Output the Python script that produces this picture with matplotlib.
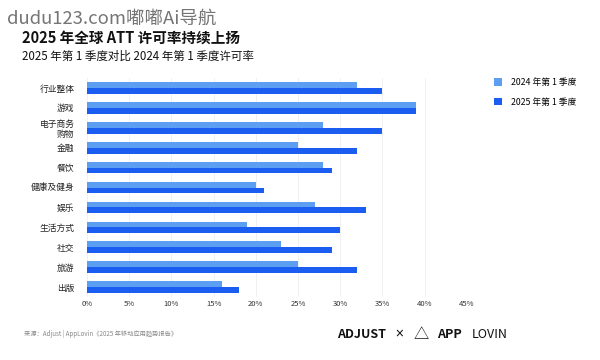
import matplotlib.pyplot as plt
import numpy as np

plt.rcParams['font.family'] = ['Noto Sans CJK SC', 'DejaVu Sans']

# categories top to bottom
categories = ["行业整体", "游戏", "电子商务\n购物", "金融", "餐饮", "健康及健身",
              "娱乐", "生活方式", "社交", "旅游", "出版"]
q1_2024 = [32, 39, 28, 25, 28, 20, 27, 19, 23, 25, 16]
q1_2025 = [35, 39, 35, 32, 29, 21, 33, 30, 29, 32, 18]
xticks = [0, 5, 10, 15, 20, 25, 30, 35, 40, 45]

c_light = "#5b9ef2"
c_dark = "#1a5df0"

fig = plt.figure(figsize=(6, 3.6), dpi=100)
ax = fig.add_axes([0.145, 0.175, 0.633, 0.608])

y = np.arange(len(categories))
h = 0.29
ax.barh(y - h / 2, q1_2024, height=h, color=c_light, label="2024 年第 1 季度", zorder=3)
ax.barh(y + h / 2, q1_2025, height=h, color=c_dark, label="2025 年第 1 季度", zorder=3)

ax.set_ylim(len(categories) - 0.5, -0.5)
ax.set_xlim(0, 45)
ax.set_yticks(y)
ax.set_yticklabels(categories, fontsize=6.3, linespacing=1.1, color="#222222")
ax.set_xticks(xticks)
ax.set_xticklabels([f"{t}%" for t in xticks], fontsize=5.5, color="#333333")
ax.tick_params(length=0)
ax.tick_params(axis="x", pad=2)
ax.tick_params(axis="y", pad=9)
ax.grid(axis="x", color="#eeeeee", lw=0.6, zorder=0)
for s in ax.spines.values():
    s.set_visible(False)

fig.legend(loc="upper left", bbox_to_anchor=(0.81, 0.805), frameon=False,
           fontsize=6.3, handlelength=0.9, handleheight=0.9, labelspacing=1.2,
           handletextpad=1.0)

# titles
fig.text(0.036, 0.88, "2025 年全球 ATT 许可率持续上扬", fontsize=10.5,
         fontweight="bold", color="#111111")
fig.text(0.036, 0.833, "2025 年第 1 季度对比 2024 年第 1 季度许可率", fontsize=8.3,
         color="#111111")
fig.text(0.012, 0.935, "dudu123.com嘟嘟Ai导航", fontsize=13.3, color="#666666", alpha=0.9)

# footer
fig.text(0.04, 0.067, "来源：Adjust | AppLovin《2025 年移动应用趋势报告》", fontsize=4.5,
         color="#888888")
fig.text(0.562, 0.062, "ADJUST", fontsize=9, fontweight="bold", color="#111111")
fig.text(0.657, 0.064, "×", fontsize=7, fontweight="bold", color="#111111")
fig.text(0.69, 0.058, "△", fontsize=11, color="#111111")
fig.text(0.728, 0.062, "APP", fontsize=9, fontweight="bold", color="#111111")
fig.text(0.787, 0.062, "LOVIN", fontsize=9, color="#111111")

fig.savefig("out.png", dpi=100)
